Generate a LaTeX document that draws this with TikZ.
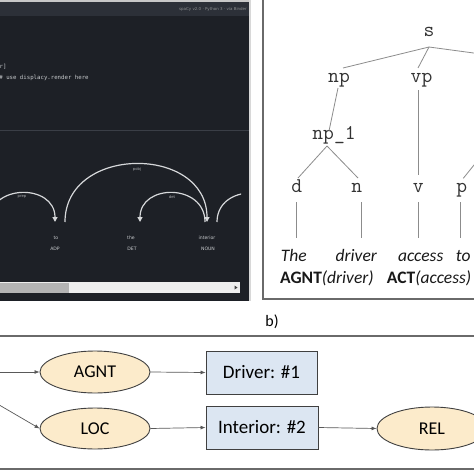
\documentclass[tikz,border=0pt]{standalone}
\usepackage{fontspec}
\usetikzlibrary{shapes.geometric,arrows.meta,calc}
\newfontfamily\calfont{Carlito}
\newfontfamily\uifont{DejaVu Sans}
\newfontfamily\codefont{DejaVu Sans Mono}
\definecolor{darkbg}{HTML}{1D2026}
\definecolor{titlebar}{HTML}{2C3038}
\definecolor{topstrip}{HTML}{C8C8C8}
\definecolor{sepline}{HTML}{3A3E46}
\definecolor{arccol}{HTML}{D6D8DA}
\definecolor{uitext}{HTML}{C9CCCF}
\definecolor{sbtrack}{HTML}{EDEDED}
\definecolor{sbthumb}{HTML}{B4B4B4}
\definecolor{treetext}{HTML}{333333}
\definecolor{treeline}{HTML}{8C8C8C}
\definecolor{framecol}{HTML}{6A6A6A}
\definecolor{ellfill}{HTML}{FCEBCB}
\definecolor{boxfill}{HTML}{DCE6F2}
\definecolor{edgecol}{HTML}{404040}
\definecolor{arrcol}{HTML}{595959}
\tikzset{
  tnode/.style={font=\ttfamily\fontsize{21}{23}\selectfont, text=treetext, inner sep=0pt, text height=9pt, text depth=0pt},
  tl/.style={draw=treeline, line width=0.8pt},
  word/.style={font=\calfont\itshape\fontsize{17.5}{20}\selectfont, text=black!90, inner sep=0pt, text height=12pt, text depth=3pt, anchor=base},
  wordw/.style={word, anchor=base west},
  frameline/.style={draw=framecol, line width=1.4pt},
  ell/.style={ellipse, draw=edgecol, fill=ellfill, minimum width=110pt, minimum height=42pt, inner sep=0pt, line width=0.9pt, font=\calfont\fontsize{18}{20}\selectfont},
  boxn/.style={rectangle, draw=edgecol, fill=boxfill, minimum width=111pt, minimum height=43pt, inner sep=0pt, line width=0.9pt, font=\calfont\fontsize{19}{21}\selectfont},
  arr/.style={draw=arrcol, line width=0.7pt, -{Latex[length=5pt,width=4pt]}},
  dword/.style={font=\uifont\fontsize{4.6}{5}\selectfont, text=uitext, inner sep=0pt},
  dlabel/.style={font=\uifont\fontsize{3.8}{4}\selectfont, text=uitext!85!black, inner sep=0pt},
  darc/.style={draw=arccol, line width=1.2pt},
  darcarrow/.style={darc, -{Triangle[length=5pt,width=5pt]}},
}
\begin{document}
\begin{tikzpicture}[x=1pt,y=-1pt]
\useasboundingbox (0,0) rectangle (474,474);
\clip (0,0) rectangle (474,474);
\fill[white] (0,0) rectangle (474,474);

% ---------- dark notebook panel ----------
\fill[topstrip] (0,0) rectangle (249,2);
\fill[titlebar] (0,2) rectangle (249,16);
\fill[darkbg] (0,16) rectangle (249,301);
\fill[topstrip!70!white] (249,0) rectangle (251,301);
\node[anchor=east, font=\uifont\fontsize{4}{5}\selectfont, text=uitext!70!black, inner sep=0pt] (title) at (247,9) {spaCy v2.0 · Python 3 · via Binder};
\node[anchor=west, font=\codefont\fontsize{5.7}{6}\selectfont, text=uitext!110, inner sep=0pt] (code1) at (-0.5,67) {r]};
\node[anchor=west, font=\codefont\fontsize{5.7}{6}\selectfont, text=uitext, inner sep=0pt] (code2) at (-0.8,78) {\# use displacy.render here};
\draw[sepline, line width=0.8pt] (0,130) -- (249,130);

\node[dword] (wto) at (56,238) {to};
\node[dword] (wthe) at (131,238) {the};
\node[dword] (wint) at (207,238) {interior};
\node[dword] (tto) at (55,249) {ADP};
\node[dword] (tthe) at (132,249) {DET};
\node[dword] (tint) at (208,249) {NOUN};

\coordinate (prepS) at (-11,222);
\coordinate (arcR) at (284,222);
\begin{scope}
\clip (0,131) rectangle (241,280);
\draw[darcarrow] (prepS) .. controls +(0,-38.7) and +(0,-38.7) .. ($(wto)+(-1,-16)$);
\draw[darcarrow] ($(wto)+(9,-16)$) .. controls +(0,-77.3) and +(0,-77.3) .. ($(wint)+(0,-16)$);
\draw[darcarrow] ($(wint)+(-2,-16)$) .. controls +(0,-38.7) and +(0,-38.7) .. ($(wthe)+(9,-16)$);
\draw[darc] ($(wint)+(10,-16)$) .. controls +(0,-38.7) and +(0,-38.7) .. (arcR);
\end{scope}
\node[dlabel] (lprep) at (22,197) {prep};
\node[dlabel] (lpobj) at (137,169) {pobj};
\node[dlabel] (ldet) at (172,197) {det};

\fill[sbtrack] (0,282) rectangle (240,293);
\fill[sbthumb] (0,282.5) rectangle (69,292.5);
\fill[black!75] (234.5,285.5) -- (237.5,287.5) -- (234.5,289.5) -- cycle;

% ---------- parse tree panel ----------
\draw[frameline] (263,-5) -- (263,299) -- (480,299);

\node[tnode] (s) at (429,32.3) {s};
\node[tnode] (np) at (339,77.5) {np};
\node[tnode] (vp) at (421.5,77.5) {vp};
\node[tnode] (np1) at (334,135) {np\_1};
\node[tnode] (d) at (296.7,187.5) {d};
\node[tnode] (n) at (356.7,187.5) {n};
\node[tnode] (v) at (418.3,187.5) {v};
\node[tnode] (p) at (461.7,187.5) {p};
\coordinate (sr) at (490,55.2);
\coordinate (pr) at (484,152.6);

\draw[tl] ($(s)+(0,14.7)$) -- ($(np)+(4,-9.5)$);
\draw[tl] ($(s)+(0,14.7)$) -- ($(vp)+(-3.5,-9.5)$);
\draw[tl] ($(s)+(0,14.7)$) -- (sr);
\draw[tl] ($(np)+(-1,10.5)$) -- ($(np1)+(-5,-4)$);
\draw[tl] ($(np1)+(-7,11)$) -- ($(d)+(1.3,-9.5)$);
\draw[tl] ($(np1)+(-7,11)$) -- ($(n)+(1.3,-9.5)$);
\draw[tl] ($(vp)+(-3.5,12.5)$) -- ($(v)+(-0.3,-12.5)$);
\draw[tl] (pr) -- ($(p)+(1.6,-9.2)$);

\node[word] (wThe) at (293.7,261.7) {The};
\node[word] (wdriver) at (356.3,261.7) {driver};
\node[word] (waccess) at (420.7,261.7) {access};
\node[word] (wto2) at (463.3,261.7) {to};
\node[wordw] (agntw) at (280,283) {\textbf{\upshape AGNT}(driver)};
\node[wordw] (actw) at (386.7,283) {\textbf{\upshape ACT}(access)};

\draw[tl] ($(d)+(-0.7,14.5)$) -- ($(wThe.north -| d)+(-0.7,-11.7)$);
\draw[tl] ($(n)+(4.3,14.5)$) -- ($(wdriver.north -| n)+(4.3,-11.7)$);
\draw[tl] ($(v)+(-0.3,14.5)$) -- ($(waccess.north -| v)+(-0.3,-11.7)$);
\draw[tl] ($(p)+(-1.7,14.5)$) -- ($(wto2.north -| p)+(-1.7,-11.7)$);

\node[font=\calfont\fontsize{16}{18}\selectfont, inner sep=0pt] (lblb) at (272,322) {b)};

% ---------- conceptual graph panel ----------
\draw[frameline] (-5,336) -- (480,336);
\draw[frameline] (-5,469) -- (480,469);

\node[ell] (agnt) at (95,372) {AGNT};
\node[ell, minimum height=41pt] (loc) at (95,428.5) {LOC};
\node[ell, minimum height=43pt] (rel) at (432,428.5) {REL};
\node[boxn] (drv) at (261.5,372.5) {Driver: \#1};
\node[boxn, minimum width=112pt] (intr) at (262,427.5) {Interior: \#2};
\coordinate (inA) at (-5,372);
\coordinate (inL) at (-10,399.6);

\draw[arr] (inA) -- (agnt.west);
\draw[arr] (inL) -- (loc.west);
\draw[arr] (agnt.east) -- (drv.west);
\draw[arr] (loc.east) -- (intr.west);
\draw[arr] (intr.east) -- (rel.west);
\end{tikzpicture}
\end{document}
